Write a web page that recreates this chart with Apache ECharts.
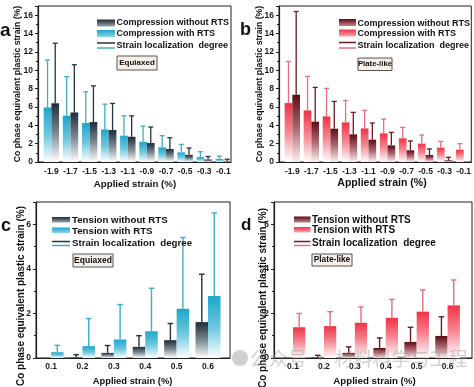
<!DOCTYPE html>
<html><head><meta charset="utf-8">
<script src="https://cdn.jsdelivr.net/npm/echarts@6/dist/echarts.min.js"></script>
<style>html,body{margin:0;padding:0;background:#fff}#c{width:474px;height:387px}</style>
</head><body><div id="c"></div>
<script>
// ---------- data ----------
const compCategories = ['-1.9','-1.7','-1.5','-1.3','-1.1','-0.9','-0.7','-0.5','-0.3','-0.1'];
const tensCategories = ['0.1','0.2','0.3','0.4','0.5','0.6'];
const yTicksComp = [0,2,4,6,8,10,12,14,16];
const yTicksTens = [0,2,4,6];

// (a) Equiaxed, compression
const aWith       = [5.95, 5.05, 4.25, 3.55, 2.87, 2.2, 1.6, 1.05, 0.55, 0.33];
const aWithErr    = [11.1, 9.3, 7.65, 6.3, 5.03, 3.92, 2.87, 1.92, 1.12, 0.63];
const aWithout    = [6.4, 5.4, 4.35, 3.48, 2.75, 2.07, 1.42, 0.78, 0.27, 0.12];
const aWithoutErr = [12.95, 10.6, 8.3, 6.38, 5.03, 3.81, 2.65, 1.52, 0.6, 0.3];
// (b) Plate-like, compression
const bWith       = [6.42, 5.62, 4.97, 4.32, 3.66, 3.12, 2.58, 2.0, 1.56, 1.34];
const bWithErr    = [10.96, 9.33, 8.02, 6.71, 5.62, 4.68, 3.77, 2.94, 2.25, 2.0];
const bWithout    = [7.33, 4.39, 3.63, 3.01, 2.43, 1.81, 1.27, 0.76, 0.18, 0];
const bWithoutErr = [16.4, 8.13, 6.6, 5.41, 4.25, 3.23, 2.29, 1.42, 0.51, null];
// (c) Equiaxed, tension
const cWithout    = [0, 0.03, 0.23, 0.5, 0.8, 1.61];
const cWithoutErr = [null, 0.15, 0.56, 1.0, 1.55, 3.76];
const cWith       = [0.26, 0.53, 0.83, 1.2, 2.21, 2.78];
const cWithErr    = [0.57, 1.77, 2.4, 3.13, 5.41, 6.51];
// (d) Plate-like, tension
const dWithout    = [0, 0.03, 0.23, 0.45, 0.72, 0.99];
const dWithoutErr = [null, 0.12, 0.5, 0.9, 1.38, 1.85];
const dWith       = [1.38, 1.43, 1.58, 1.8, 2.08, 2.36];
const dWithErr    = [2.0, 2.08, 2.29, 2.63, 3.05, 3.5];

// ---------- styles ----------
const FONT = 'Liberation Sans, Arial, Helvetica, sans-serif';
const AX = '#1e1e1e';
function grad(c0, c1, c2) {
  return new echarts.graphic.LinearGradient(0, 0, 0, 1, [
    {offset: 0, color: c0}, {offset: 0.5, color: c1}, {offset: 1, color: c2}]);
}
const COL = {
  cyan:  {bar: () => grad('#1ea6cb', '#6cc7de', '#ffffff'), err: '#3eaec4', icon: ['#1ea6cb', '#8fd5e7']},
  navy:  {bar: () => grad('#1d2c38', '#7a8892', '#ffffff'), err: '#24343f', icon: ['#1d2c38', '#9aa5ad']},
  red:   {bar: () => grad('#ef3345', '#f68a95', '#ffffff'), err: '#e2707d', icon: ['#ef3345', '#f9a9b1']},
  wine:  {bar: () => grad('#5c0b14', '#ae6870', '#fbeff0'), err: '#6b1a22', icon: ['#5c0b14', '#c0858b']}
};

const chart = echarts.init(document.getElementById('c'), null, {renderer: 'canvas'});

const grids = [
  {left: 38, top: 6, width: 193, height: 156},
  {left: 279, top: 6, width: 193, height: 156},
  {left: 36, top: 202, width: 194, height: 156},
  {left: 274, top: 202, width: 198, height: 156}
].map(g => Object.assign(g, {show: true, borderColor: AX, borderWidth: 1, backgroundColor: 'transparent'}));

function xAxisCfg(gi, min, max, cats, margin) {
  return {
    type: 'value', gridIndex: gi, min, max,
    axisLine: {show: true, onZero: false, lineStyle: {color: AX, width: 1.2}},
    axisTick: {show: false}, splitLine: {show: false},
    axisLabel: {
      customValues: cats.map(Number), margin,
      formatter: v => cats.reduce((b, c) => Math.abs(Number(c) - v) < Math.abs(Number(b) - v) ? c : b, cats[0]),
      color: '#1a1a1a', fontFamily: FONT, fontWeight: 'bold', fontSize: 8.5
    }
  };
}
function yAxisCfg(gi, ticks, max) {
  return {
    type: 'value', gridIndex: gi, min: ticks[0], max, interval: ticks[1] - ticks[0],
    axisLine: {show: true, lineStyle: {color: AX, width: 1.2}},
    axisTick: {show: true, inside: false, length: 3, lineStyle: {color: AX, width: 1}},
    minorTick: {show: true, splitNumber: 2, length: 2, lineStyle: {color: AX, width: 1}},
    splitLine: {show: false}, minorSplitLine: {show: false},
    axisLabel: {
      margin: 5, showMaxLabel: false,
      formatter: v => ticks.indexOf(v) >= 0 ? String(v) : '',
      color: '#1a1a1a', fontFamily: FONT, fontWeight: 'bold', fontSize: 8.5
    }
  };
}

function barSeries(gi, cats, vals, col, bw) {
  return {
    type: 'bar', xAxisIndex: gi, yAxisIndex: gi, barWidth: bw, barGap: '0%', silent: true,
    data: cats.map((c, i) => [Number(c), vals[i]]),
    itemStyle: {color: col.bar()}, z: 2
  };
}
function errSeries(gi, cats, vals, errs, offset, color, cap, lw) {
  return {
    type: 'custom', xAxisIndex: gi, yAxisIndex: gi, silent: true, z: 3,
    encode: {x: 0, y: [1, 2]},
    data: cats.map((c, i) => [Number(c), vals[i], errs[i]]).filter(d => d[2] != null),
    renderItem(params, api) {
      const x = api.value(0);
      const p0 = api.coord([x, api.value(1)]);
      const p1 = api.coord([x, api.value(2)]);
      const cx = p0[0] + offset;
      const st = {stroke: color, lineWidth: lw};
      return {type: 'group', children: [
        {type: 'line', shape: {x1: cx, y1: p0[1], x2: cx, y2: p1[1]}, style: st},
        {type: 'line', shape: {x1: cx - cap, y1: p1[1], x2: cx + cap, y2: p1[1]}, style: st}
      ]};
    }
  };
}

const BWab = 7.7, BWc = 12.5, BWd = 12.3;
const series = [
  // a: cyan (with) left, navy (without) right
  barSeries(0, compCategories, aWith, COL.cyan, BWab),
  barSeries(0, compCategories, aWithout, COL.navy, BWab),
  errSeries(0, compCategories, aWith, aWithErr, -BWab / 2, COL.cyan.err, 2.5, 1.3),
  errSeries(0, compCategories, aWithout, aWithoutErr, BWab / 2, COL.navy.err, 2.5, 1.3),
  // b: red (with) left, wine (without) right
  barSeries(1, compCategories, bWith, COL.red, BWab),
  barSeries(1, compCategories, bWithout, COL.wine, BWab),
  errSeries(1, compCategories, bWith, bWithErr, -BWab / 2, COL.red.err, 2.5, 1.3),
  errSeries(1, compCategories, bWithout, bWithoutErr, BWab / 2, COL.wine.err, 2.5, 1.3),
  // c: navy (without) left, cyan (with) right
  barSeries(2, tensCategories, cWithout, COL.navy, BWc),
  barSeries(2, tensCategories, cWith, COL.cyan, BWc),
  errSeries(2, tensCategories, cWithout, cWithoutErr, -BWc / 2, COL.navy.err, 2.8, 1.4),
  errSeries(2, tensCategories, cWith, cWithErr, BWc / 2, COL.cyan.err, 2.8, 1.4),
  // d: wine (without) left, red (with) right
  barSeries(3, tensCategories, dWithout, COL.wine, BWd),
  barSeries(3, tensCategories, dWith, COL.red, BWd),
  errSeries(3, tensCategories, dWithout, dWithoutErr, -BWd / 2, COL.wine.err, 2.8, 1.4),
  errSeries(3, tensCategories, dWith, dWithErr, BWd / 2, COL.red.err, 2.8, 1.4)
];

// ---------- annotations (legends, labels) ----------
function txt(x, y, text, size, extra) {
  return Object.assign({type: 'text', x, y, silent: true, z: 10,
    style: {text, fill: '#111', font: 'bold ' + size + 'px ' + FONT, textAlign: 'left', textVerticalAlign: 'middle'}}, extra || {});
}
function vtxt(x, y, text, size) {
  return {type: 'text', x, y, rotation: Math.PI / 2, silent: true, z: 10,
    style: {text, fill: '#111', font: 'bold ' + size + 'px ' + FONT, textAlign: 'center', textVerticalAlign: 'middle'}};
}
function iconRect(x, y, w, h, cols) {
  return {type: 'rect', silent: true, z: 10, shape: {x, y, width: w, height: h},
    style: {fill: new echarts.graphic.LinearGradient(0, 0, 0, 1, [{offset: 0, color: cols[0]}, {offset: 1, color: cols[1]}])}};
}
function iconLine(x1, x2, y, color) {
  return {type: 'line', silent: true, z: 10, shape: {x1, y1: y, x2, y2: y}, style: {stroke: color, lineWidth: 1.5}};
}
function box(x, y, w, h, text, size) {
  return [
    {type: 'rect', silent: true, z: 10, shape: {x, y, width: w, height: h}, style: {fill: '#f7efe8', stroke: '#555', lineWidth: 1}},
    txt(x + w / 2, y + h / 2, text, size, {style: {text, fill: '#111', font: 'bold ' + size + 'px ' + FONT, textAlign: 'center', textVerticalAlign: 'middle'}})
  ];
}
const yName = 'Co phase equivalent plastic strain (%)';
const xName = 'Applied strain (%)';

const graphic = [
  // panel letters
  {type: 'text', x: 0, y: 21, silent: true, style: {text: 'a', font: 'bold 19px ' + FONT, fill: '#111', textBaseline: 'alphabetic'}},
  {type: 'text', x: 240, y: 21, silent: true, style: {text: 'b', font: 'bold 18px ' + FONT, fill: '#111', textBaseline: 'alphabetic'}},
  {type: 'text', x: 1, y: 217.5, silent: true, style: {text: 'c', font: 'bold 18px ' + FONT, fill: '#111', textBaseline: 'alphabetic'}},
  {type: 'text', x: 241, y: 217, silent: true, style: {text: 'd', font: 'bold 17px ' + FONT, fill: '#111', textBaseline: 'alphabetic'}},
  // axis names
  vtxt(18, 84, yName, 8.7), vtxt(259.5, 84, yName, 8.7),
  vtxt(21.5, 296, yName, 10), vtxt(263.5, 298, yName, 10),
  txt(135, 184, xName, 9.7, {style: {text: xName, fill: '#111', font: 'bold 9.7px ' + FONT, textAlign: 'center', textVerticalAlign: 'middle'}}),
  txt(382, 183, xName, 10.5, {style: {text: xName, fill: '#111', font: 'bold 10.5px ' + FONT, textAlign: 'center', textVerticalAlign: 'middle'}}),
  txt(132.5, 381, xName, 9.4, {style: {text: xName, fill: '#111', font: 'bold 9.4px ' + FONT, textAlign: 'center', textVerticalAlign: 'middle'}}),
  txt(374.5, 381, xName, 9.7, {style: {text: xName, fill: '#111', font: 'bold 9.7px ' + FONT, textAlign: 'center', textVerticalAlign: 'middle'}}),
  // legend a
  iconRect(97, 19.5, 18, 7, COL.navy.icon), txt(116.5, 23, 'Compression without RTS', 9),
  iconRect(97, 30, 18, 7, COL.cyan.icon), txt(116.5, 33.5, 'Compression with RTS', 9),
  iconLine(97, 115, 43, COL.navy.err), iconLine(97, 115, 48, COL.cyan.err), txt(116.5, 46, 'Strain localization  degree', 9),
  ...box(117, 56, 40, 14, 'Equiaxed', 8),
  // legend b
  iconRect(339, 19, 17, 7, COL.wine.icon), txt(357.5, 23.5, 'Compression without RTS', 9),
  iconRect(339, 29.5, 17, 7, COL.red.icon), txt(357.5, 33.5, 'Compression with RTS', 9),
  iconLine(339, 356, 42.5, COL.wine.err), iconLine(339, 356, 48, COL.red.err), txt(357.5, 45.5, 'Strain localization  degree', 9),
  ...box(358, 58, 34, 12.5, 'Plate-like', 7.8),
  // legend c
  iconRect(52, 217, 18, 5.5, COL.navy.icon), txt(72, 220, 'Tension without RTS', 9.7),
  iconRect(52, 227.5, 18, 5.5, COL.cyan.icon), txt(72, 231, 'Tension with RTS', 9.7),
  iconLine(52, 70, 241.5, COL.navy.err), iconLine(52, 70, 245.5, COL.cyan.err), txt(72, 243, 'Strain localization  degree', 9.7),
  ...box(73, 254, 40, 13, 'Equiaxed', 8.5),
  // legend d
  iconRect(294, 216.5, 16.5, 6, COL.wine.icon), txt(312, 220, 'Tension without RTS', 10),
  iconRect(294, 227, 16.5, 5.5, COL.red.icon), txt(312, 230.5, 'Tension with RTS', 10),
  iconLine(294, 310.5, 241.5, COL.wine.err), iconLine(294, 310.5, 245.5, COL.red.err), txt(312, 243, 'Strain localization  degree', 10),
  ...box(312, 254, 40, 12, 'Plate-like', 8.3),
  // watermark
  {type: 'circle', silent: true, z: 20, shape: {cx: 240, cy: 358, r: 8}, style: {fill: 'rgba(150,150,150,0.45)'}},
  {type: 'text', x: 250, y: 359, silent: true, z: 20, style: {text: '公众号 · 材料科学与工程', font: '19px "Noto Sans CJK SC", sans-serif', fill: 'rgba(150,150,150,0.45)', textVerticalAlign: 'middle'}}
];

chart.setOption({
  animation: false,
  backgroundColor: '#ffffff',
  grid: grids,
  xAxis: [
    xAxisCfg(0, -2.04, -0.02, compCategories, 5.5),
    xAxisCfg(1, -2.04, -0.02, compCategories, 5.5),
    xAxisCfg(2, 0.052, 0.67, tensCategories, 4.5),
    xAxisCfg(3, 0.0385, 0.679, tensCategories, 4.5)
  ],
  yAxis: [
    yAxisCfg(0, yTicksComp, 17), yAxisCfg(1, yTicksComp, 17),
    yAxisCfg(2, yTicksTens, 7), yAxisCfg(3, yTicksTens, 7)
  ],
  series,
  graphic
});
</script>
</body></html>
